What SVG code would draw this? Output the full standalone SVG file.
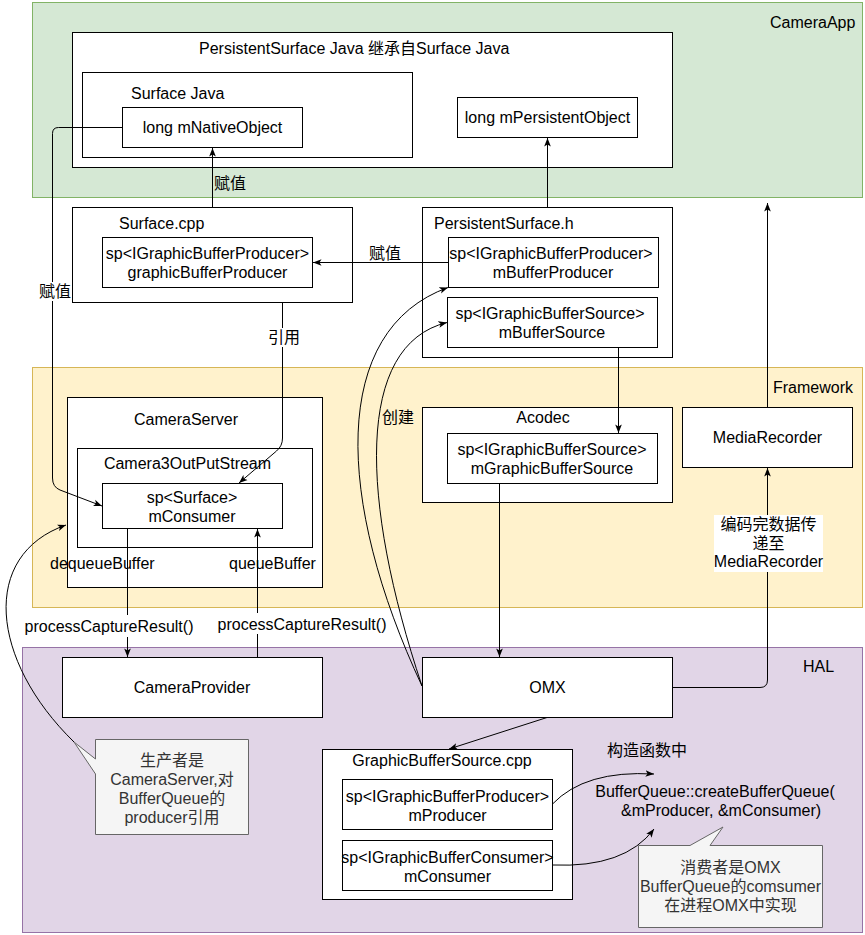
<svg xmlns="http://www.w3.org/2000/svg" width="865" height="935" viewBox="0 0 865 935">
<style>
text{font-family:"Liberation Sans",Arial,"Noto Sans CJK SC",sans-serif;font-size:16px;fill:#000}
.c{text-anchor:middle}
.box{fill:#fff;stroke:#000;stroke-width:1}
.edge{fill:none;stroke:#000;stroke-width:1}
.arr{marker-end:url(#arrow)}
.bg{fill:#fff;stroke:none}
.note{fill:#f5f5f5;stroke:#666;stroke-width:1}
.nt{fill:#333}
</style>
<defs>
<marker id="arrow" viewBox="0 0 10 8" refX="9.5" refY="4" markerWidth="9" markerHeight="8" orient="auto" markerUnits="userSpaceOnUse">
<path d="M0,0.3 L9.5,4 L0,7.7 L2.4,4 z" fill="#000"/>
</marker>
</defs>

<g id="containers">
<g id="cameraapp"><rect x="32.5" y="2.5" width="830" height="195" fill="#d5e8d4" stroke="#82b366"/><text x="770" y="28">CameraApp</text></g>
<g id="framework"><rect x="32.5" y="367.5" width="830" height="240" fill="#fff2cc" stroke="#d6b656"/><text x="773" y="393">Framework</text></g>
<g id="hal"><rect x="22.5" y="647.5" width="840" height="285" fill="#e1d5e7" stroke="#9673a6"/><text x="803" y="672">HAL</text></g>
</g>

<g id="persistent-surface-java"><rect class="box" x="72.5" y="32.5" width="600" height="135"/><text x="199" y="54">PersistentSurface Java 继承自Surface Java</text></g>
<g id="surface-java"><rect class="box" x="82.5" y="72.5" width="330" height="85"/><text x="131" y="99">Surface Java</text></g>
<g id="mNativeObject"><rect class="box" x="122.5" y="107.5" width="180" height="40"/><text class="c" x="212.5" y="133">long mNativeObject</text></g>
<g id="mPersistentObject"><rect class="box" x="457.5" y="97.5" width="180" height="40"/><text class="c" x="547.5" y="123">long mPersistentObject</text></g>

<g id="surface-cpp"><rect class="box" x="72.5" y="207.5" width="280" height="95"/><text x="119" y="229">Surface.cpp</text></g>
<g id="graphicBufferProducer"><rect class="box" x="102.5" y="237.5" width="210" height="50"/><text class="c" x="207.5" y="258.5">sp&lt;IGraphicBufferProducer&gt;</text><text class="c" x="207.5" y="277.5">graphicBufferProducer</text></g>

<g id="persistent-surface-h"><rect class="box" x="422.5" y="207.5" width="250" height="150"/><text x="434" y="229">PersistentSurface.h</text></g>
<g id="mBufferProducer"><rect class="box" x="448.5" y="237.5" width="210" height="50"/><text class="c" x="551" y="259">sp&lt;IGraphicBufferProducer&gt;</text><text class="c" x="553" y="278">mBufferProducer</text></g>
<g id="mBufferSource"><rect class="box" x="447.5" y="297.5" width="210" height="50"/><text class="c" x="550" y="318.5">sp&lt;IGraphicBufferSource&gt;</text><text class="c" x="552" y="337.5">mBufferSource</text></g>

<g id="camera-server"><rect class="box" x="67.5" y="397.5" width="255" height="190"/><text class="c" x="186" y="425">CameraServer</text></g>
<g id="camera3-output-stream"><rect class="box" x="77.5" y="448.5" width="235" height="99"/><text class="c" x="187.5" y="468.5">Camera3OutPutStream</text></g>
<g id="mConsumer-surface"><rect class="box" x="102.5" y="483.5" width="180" height="45"/><text class="c" x="192" y="502.5">sp&lt;Surface&gt;</text><text class="c" x="192" y="521.5">mConsumer</text></g>

<g id="acodec"><rect class="box" x="422.5" y="407.5" width="250" height="95"/><text class="c" x="543" y="422.5">Acodec</text></g>
<g id="mGraphicBufferSource"><rect class="box" x="447.5" y="433.5" width="210" height="50"/><text class="c" x="552" y="455">sp&lt;IGraphicBufferSource&gt;</text><text class="c" x="552" y="474">mGraphicBufferSource</text></g>

<g id="media-recorder"><rect class="box" x="682.5" y="407.5" width="170" height="60"/><text class="c" x="767.5" y="443">MediaRecorder</text></g>

<g id="camera-provider"><rect class="box" x="62.5" y="657.5" width="260" height="60"/><text class="c" x="192" y="693">CameraProvider</text></g>
<g id="omx"><rect class="box" x="422.5" y="657.5" width="250" height="60"/><text class="c" x="547.5" y="693">OMX</text></g>

<g id="graphic-buffer-source-cpp"><rect class="box" x="322.5" y="749.5" width="250" height="150"/><text class="c" x="442" y="766">GraphicBufferSource.cpp</text></g>
<g id="mProducer"><rect class="box" x="342.5" y="779.5" width="210" height="50"/><text class="c" x="447.5" y="802">sp&lt;IGraphicBufferProducer&gt;</text><text class="c" x="447.5" y="821">mProducer</text></g>
<g id="mConsumer"><rect class="box" x="342.5" y="840.5" width="210" height="50"/><text class="c" x="447.5" y="862.5">sp&lt;IGraphicBufferConsumer&gt;</text><text class="c" x="447.5" y="881.5">mConsumer</text></g>

<g id="create-buffer-queue"><text class="c" x="647" y="756">构造函数中</text><text class="c" x="715" y="797">BufferQueue::createBufferQueue(</text><text class="c" x="721" y="816">&amp;mProducer, &amp;mConsumer)</text></g>

<g id="note-producer">
<path class="note" d="M95.5,739.5 L248.5,739.5 L248.5,834.5 L95.5,834.5 L95.5,774 L74,742 L95.5,759 Z"/>
<text class="c nt" x="172" y="766">生产者是</text>
<text class="c nt" x="172" y="785">CameraServer,对</text>
<text class="c nt" x="172" y="804">BufferQueue的</text>
<text class="c nt" x="172" y="823">producer引用</text>
</g>
<g id="note-consumer">
<path class="note" d="M638.5,845.5 L690,845.5 L723,827 L710,845.5 L822.5,845.5 L822.5,927.5 L638.5,927.5 Z"/>
<text class="c nt" x="730.5" y="873">消费者是OMX</text>
<text class="c nt" x="730.5" y="892">BufferQueue的comsumer</text>
<text class="c nt" x="730.5" y="911">在进程OMX中实现</text>
</g>

<g id="connectors">
<path class="edge arr" d="M212.5,207 L212.5,148"/>
<path class="edge arr" d="M547.5,207 L547.5,138"/>
<path class="edge arr" d="M448,262.5 L313,262.5"/>
<path class="edge arr" d="M122,127.5 L58.5,127.5 Q52.5,127.5 52.5,133.5 L52.5,478 Q52.5,487 60,490 L102,506"/>
<path class="edge arr" d="M282.5,302.5 L282.5,438 Q282.5,446 276.5,451 L239,483"/>
<path class="edge arr" d="M618.5,347.5 L618.5,433"/>
<path class="edge arr" d="M499.5,483.5 L499.5,657"/>
<path class="edge arr" d="M127.5,528.5 L127.5,657"/>
<path class="edge arr" d="M257.5,657.5 L257.5,529"/>
<path class="edge arr" d="M767.5,407.5 L767.5,203"/>
<path class="edge arr" d="M672.5,687.5 L760,687.5 Q767.5,687.5 767.5,680 L767.5,468"/>
<path class="edge arr" d="M422,686 C335,500 330,330 448,287.5"/>
<path class="edge arr" d="M422,686 C360,500 355,345 447,322.5"/>
<path class="edge arr" d="M547,717.5 L449,749"/>
<path class="edge arr" d="M552.5,804 Q585,770 654,774"/>
<path class="edge arr" d="M552.5,865 Q625,868 654,829"/>
<path class="edge arr" d="M74,742 C-10,660 -20,555 66,525"/>
</g>

<g id="edge-labels">
<text x="214" y="189">赋值</text>
<text x="369" y="258.5">赋值</text>
<rect class="bg" x="38" y="282" width="33" height="19"/><text x="39" y="296.5">赋值</text>
<rect class="bg" x="267" y="328" width="32" height="19"/><text x="268" y="343">引用</text>
<text x="382" y="423">创建</text>
<text x="50" y="568.5">dequeueBuffer</text>
<text x="229" y="568.5">queueBuffer</text>
<rect class="bg" x="24" y="615" width="170" height="22"/><text x="24.5" y="632">processCaptureResult()</text>
<rect class="bg" x="217" y="613" width="170" height="21"/><text x="217.5" y="629.5">processCaptureResult()</text>
<rect class="bg" x="714" y="515" width="109" height="57"/>
<text class="c" x="768.5" y="529.5">编码完数据传</text>
<text class="c" x="768.5" y="548.5">递至</text>
<text class="c" x="768.5" y="567">MediaRecorder</text>
</g>
</svg>
